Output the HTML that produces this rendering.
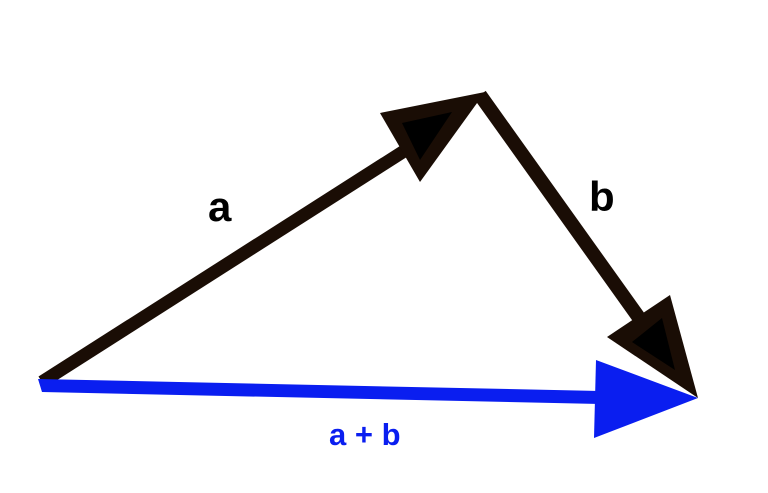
<!DOCTYPE html>
<html><head><style>body{margin:0;background:#fff}svg{display:block}</style></head><body>
<svg width="768" height="493" viewBox="0 0 768 493" xmlns="http://www.w3.org/2000/svg">
<rect width="768" height="493" fill="#fff"/>
<line x1="42" y1="382" x2="412" y2="146" stroke="#1a0d05" stroke-width="13"/>
<line x1="480" y1="95" x2="642" y2="322" stroke="#1a0d05" stroke-width="14"/>
<polygon points="380,113 485,92 420,182" fill="#1a0d05"/>
<polygon points="402,123 452,112 420,160" fill="#000"/>
<polygon points="670,295 607,337 698,398" fill="#1a0d05"/>
<polygon points="632,342 662,318 675,370" fill="#000"/>
<polygon points="38,379 42,392 600,404 600,391" fill="#0a1ef0"/>
<polygon points="596,360 698,398 594,438" fill="#0a1ef0"/>
<text x="208" y="221" font-family="Liberation Sans, sans-serif" font-weight="bold" font-size="42" fill="#000">a</text>
<text x="589" y="211" font-family="Liberation Sans, sans-serif" font-weight="bold" font-size="42" fill="#000">b</text>
<text x="329" y="445" font-family="Liberation Sans, sans-serif" font-weight="bold" font-size="31" fill="#0a1ef0">a + b</text>
</svg>
</body></html>
